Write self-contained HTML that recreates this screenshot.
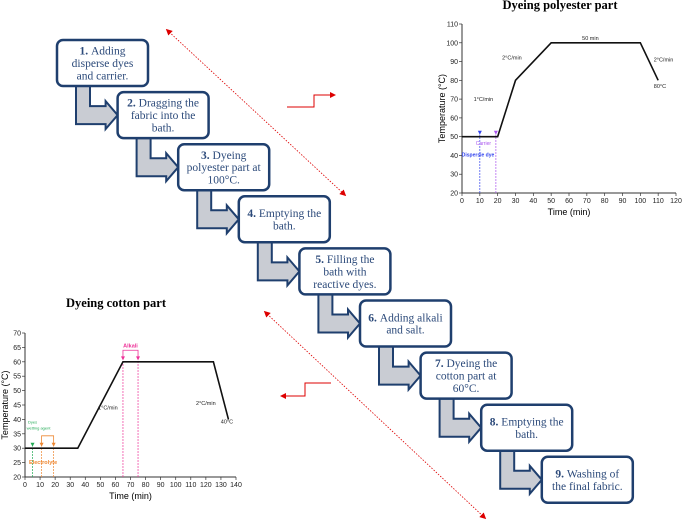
<!DOCTYPE html>
<html><head><meta charset="utf-8"><style>
body{margin:0;background:#fff}
svg{display:block;font-family:"Liberation Sans",sans-serif}
.bx{fill:#fff;stroke:#1f3f6e;stroke-width:2.5}
.bt{font-family:"Liberation Serif",serif;font-size:11.5px;fill:#2c4a7a;text-anchor:middle}
.ar{fill:#c9ccd3;stroke:#1f3f6e;stroke-width:2;stroke-linejoin:miter}
.tk{font-size:7px;fill:#222}
</style></head><body>
<svg id="s" width="685" height="521" viewBox="0 0 685 521">
<defs>
<marker id="rh" markerWidth="8" markerHeight="8" refX="6" refY="4" orient="auto-start-reverse"><path d="M0,0L8,4L0,8z" fill="#d00"/></marker>
<marker id="sa" markerWidth="6" markerHeight="6" refX="5" refY="3" orient="auto"><path d="M0,0L6,3L0,6z" fill="#d00"/></marker>
</defs>
<g id="flow"></g>
<line x1="167" y1="30" x2="345" y2="195" stroke="#d00" stroke-width="0.8" stroke-dasharray="1.5,1.5" marker-start="url(#rh)" marker-end="url(#rh)"/>
<line x1="265" y1="312" x2="485" y2="518" stroke="#d00" stroke-width="0.8" stroke-dasharray="1.5,1.5" marker-start="url(#rh)" marker-end="url(#rh)"/>
<path d="M287,107H314V95H335" fill="none" stroke="#d00" stroke-width="1" marker-end="url(#sa)"/>
<path d="M331,383H305V396H281" fill="none" stroke="#d00" stroke-width="1" marker-end="url(#sa)"/>
<g id="c1"></g>
<g id="c2"></g>
</svg>
<script>
const NS="http://www.w3.org/2000/svg";
function mk(p,t,a,txt){const e=document.createElementNS(NS,t);for(const k in a)e.setAttribute(k,a[k]);if(txt!==undefined)e.textContent=txt;p.appendChild(e);return e;}
// flowchart
const steps=[["1.","Adding","disperse dyes","and carrier."],["2.","Dragging the","fabric into the","bath."],["3.","Dyeing","polyester part at","100°C."],["4.","Emptying the","bath."],["5.","Filling the","bath with","reactive dyes."],["6.","Adding alkali","and salt."],["7.","Dyeing the","cotton part at","60°C."],["8.","Emptying the","bath."],["9.","Washing of","the final fabric."]];
const flow=document.getElementById('flow');
steps.forEach((s,i)=>{
 const x=57+i*60.6,y=40+i*52.1,w=91,h=46;
 if(i<8){
  const ax=x+19,ay=y+h,nx=x+60.6,ny=y+52.1+23;
  const a=mk(flow,'path',{class:'ar',d:`M${ax},${ay}V${ny+9}H${nx-12}V${ny+14}L${nx},${ny}L${nx-12},${ny-14}V${ny-9}H${ax+14}V${ay}Z`});
  
  
 }
});
steps.forEach((s,i)=>{
 const x=57+i*60.6,y=40+i*52.1,w=91,h=46;
 const g=mk(flow,'g',{});
 
 
 mk(g,'rect',{class:'bx',x:x,y:y,width:w,height:h,rx:6});
 const lines=s.slice(1);const n=lines.length;const y0=y+h/2-(n-1)*6.2+4;
 lines.forEach((l,j)=>{const t=mk(g,'text',{class:'bt',x:x+w/2,y:y0+j*12.4});
  if(j===0){mk(t,'tspan',{'font-weight':'bold'},s[0]+' ');}
  t.appendChild(document.createTextNode(l));});
});
// polyester chart data
const polyTimes=[0,20,30,50,100,110];
const polyTemps=[50,50,80,100,100,80];
const polyXTicks=[0,10,20,30,40,50,60,70,80,90,100,110,120];
const polyYTicks=[20,30,40,50,60,70,80,90,100,110];
// cotton chart data
const cotTimes=[0,35,65,125,135];
const cotTemps=[30,30,60,60,40];
const cotXTicks=[0,10,20,30,40,50,60,70,80,90,100,110,120,130,140];
const cotYTicks=[20,25,30,35,40,45,50,55,60,65,70];

function chart(g,cfg){
 const X=v=>cfg.x0+(v-cfg.xmin)/(cfg.xmax-cfg.xmin)*(cfg.x1-cfg.x0);
 const Y=v=>cfg.y0-(v-cfg.ymin)/(cfg.ymax-cfg.ymin)*(cfg.y0-cfg.y1);
 const t=mk(g,'text',{x:cfg.tx,y:cfg.ty,'font-family':'Liberation Serif,serif','font-weight':'bold','font-size':'12.5','text-anchor':'middle'},cfg.title);
 
 const ax=mk(g,'path',{d:`M${cfg.x0},${cfg.y1}V${cfg.y0}H${cfg.x1}`,stroke:'#333','stroke-width':1,fill:'none'});
 
 cfg.xt.forEach(v=>{mk(g,'line',{x1:X(v),x2:X(v),y1:cfg.y0,y2:cfg.y0+3,stroke:'#333','stroke-width':0.7});
  const l=mk(g,'text',{class:'tk',x:X(v),y:cfg.y0+10,'text-anchor':'middle'},v);
  });
 cfg.yt.forEach(v=>{mk(g,'line',{x1:cfg.x0-3,x2:cfg.x0,y1:Y(v),y2:Y(v),stroke:'#333','stroke-width':0.7});
  const l=mk(g,'text',{class:'tk',x:cfg.x0-4,y:Y(v)+2.5,'text-anchor':'end'},v);
  });
 const yl=mk(g,'text',{x:0,y:0,'font-size':'9','text-anchor':'middle',transform:`translate(${cfg.x0-17},${(cfg.y0+cfg.y1)/2}) rotate(-90)`},'Temperature (°C)');
 
 const xl=mk(g,'text',{x:(cfg.x0+cfg.x1)/2,y:cfg.y0+22,'font-size':'9','text-anchor':'middle'},'Time (min)');
 
 cfg.marks.forEach(m=>{const l=mk(g,'line',{x1:X(m[0]),x2:X(m[0]),y1:cfg.y0,y2:Y(m[1]),stroke:m[2],'stroke-width':0.7,'stroke-dasharray':'2,1'});
  
  mk(g,'path',{d:`M${X(m[0])-2},${Y(m[1])-4}L${X(m[0])+2},${Y(m[1])-4}L${X(m[0])},${Y(m[1])}Z`,fill:m[2]});});
 const pts=cfg.xs.map((v,i)=>X(v)+','+Y(cfg.ys[i])).join(' ');
 const pl=mk(g,'polyline',{points:pts,fill:'none',stroke:'#111','stroke-width':1.6});
 
 cfg.labels.forEach(a=>{const l=mk(g,'text',{x:X(a[0]),y:Y(a[1]),'font-size':a[3]||5.5,fill:a[4]||'#222','text-anchor':'middle','font-weight':a[5]||'normal'},a[2]);
  });
 return {X,Y};
}
const p=chart(document.getElementById('c1'),{x0:462,x1:676,y0:193,y1:24,xmin:0,xmax:120,ymin:20,ymax:110,xs:polyTimes,ys:polyTemps,xt:polyXTicks,yt:polyYTicks,title:'Dyeing polyester part',tx:560,ty:9,
 marks:[[10,51,'#3344ee'],[19,51,'#aa55ee']],
 labels:[[72,101.5,'50 min'],[28,91,'2°C/min'],[12,69,'1°C/min'],[113,90,'2°C/min'],[111,76,'80°C'],[12,45.5,'Carrier',5,'#aa55ee'],[9,39.5,'Dispersie dye',5,'#3344ee','bold']]});
const c=chart(document.getElementById('c2'),{x0:25,x1:236,y0:477,y1:333,xmin:0,xmax:140,ymin:20,ymax:70,xs:cotTimes,ys:cotTemps,xt:cotXTicks,yt:cotYTicks,title:'Dyeing cotton part',tx:116,ty:307,
 marks:[[5,30.5,'#22aa55'],[11,30.5,'#ee8833'],[19,30.5,'#ee8833'],[65,60.5,'#ee3399'],[75,60.5,'#ee3399']],
 labels:[[55,43.5,'1°C/min'],[120,45,'2°C/min'],[134,38.5,'40°C'],[70,65,'Alkali',5.5,'#ee3399','bold'],[12,24.5,'Electrolyte',5.5,'#ee8833','bold'],[5,38.5,'Dyes',4,'#22aa55'],[9,36.5,'wetting agent',4,'#22aa55']]});
const g2=document.getElementById('c2');
mk(g2,'path',{d:`M${c.X(11)},${c.Y(30.8)}V${c.Y(34.3)}H${c.X(19)}V${c.Y(30.8)}`,stroke:'#ee8833',fill:'none','stroke-width':0.8});
mk(g2,'path',{d:`M${c.X(65)},${c.Y(60.8)}V${c.Y(64)}H${c.X(75)}V${c.Y(60.8)}`,stroke:'#ee3399',fill:'none','stroke-width':0.8});
</script>
</body></html>
